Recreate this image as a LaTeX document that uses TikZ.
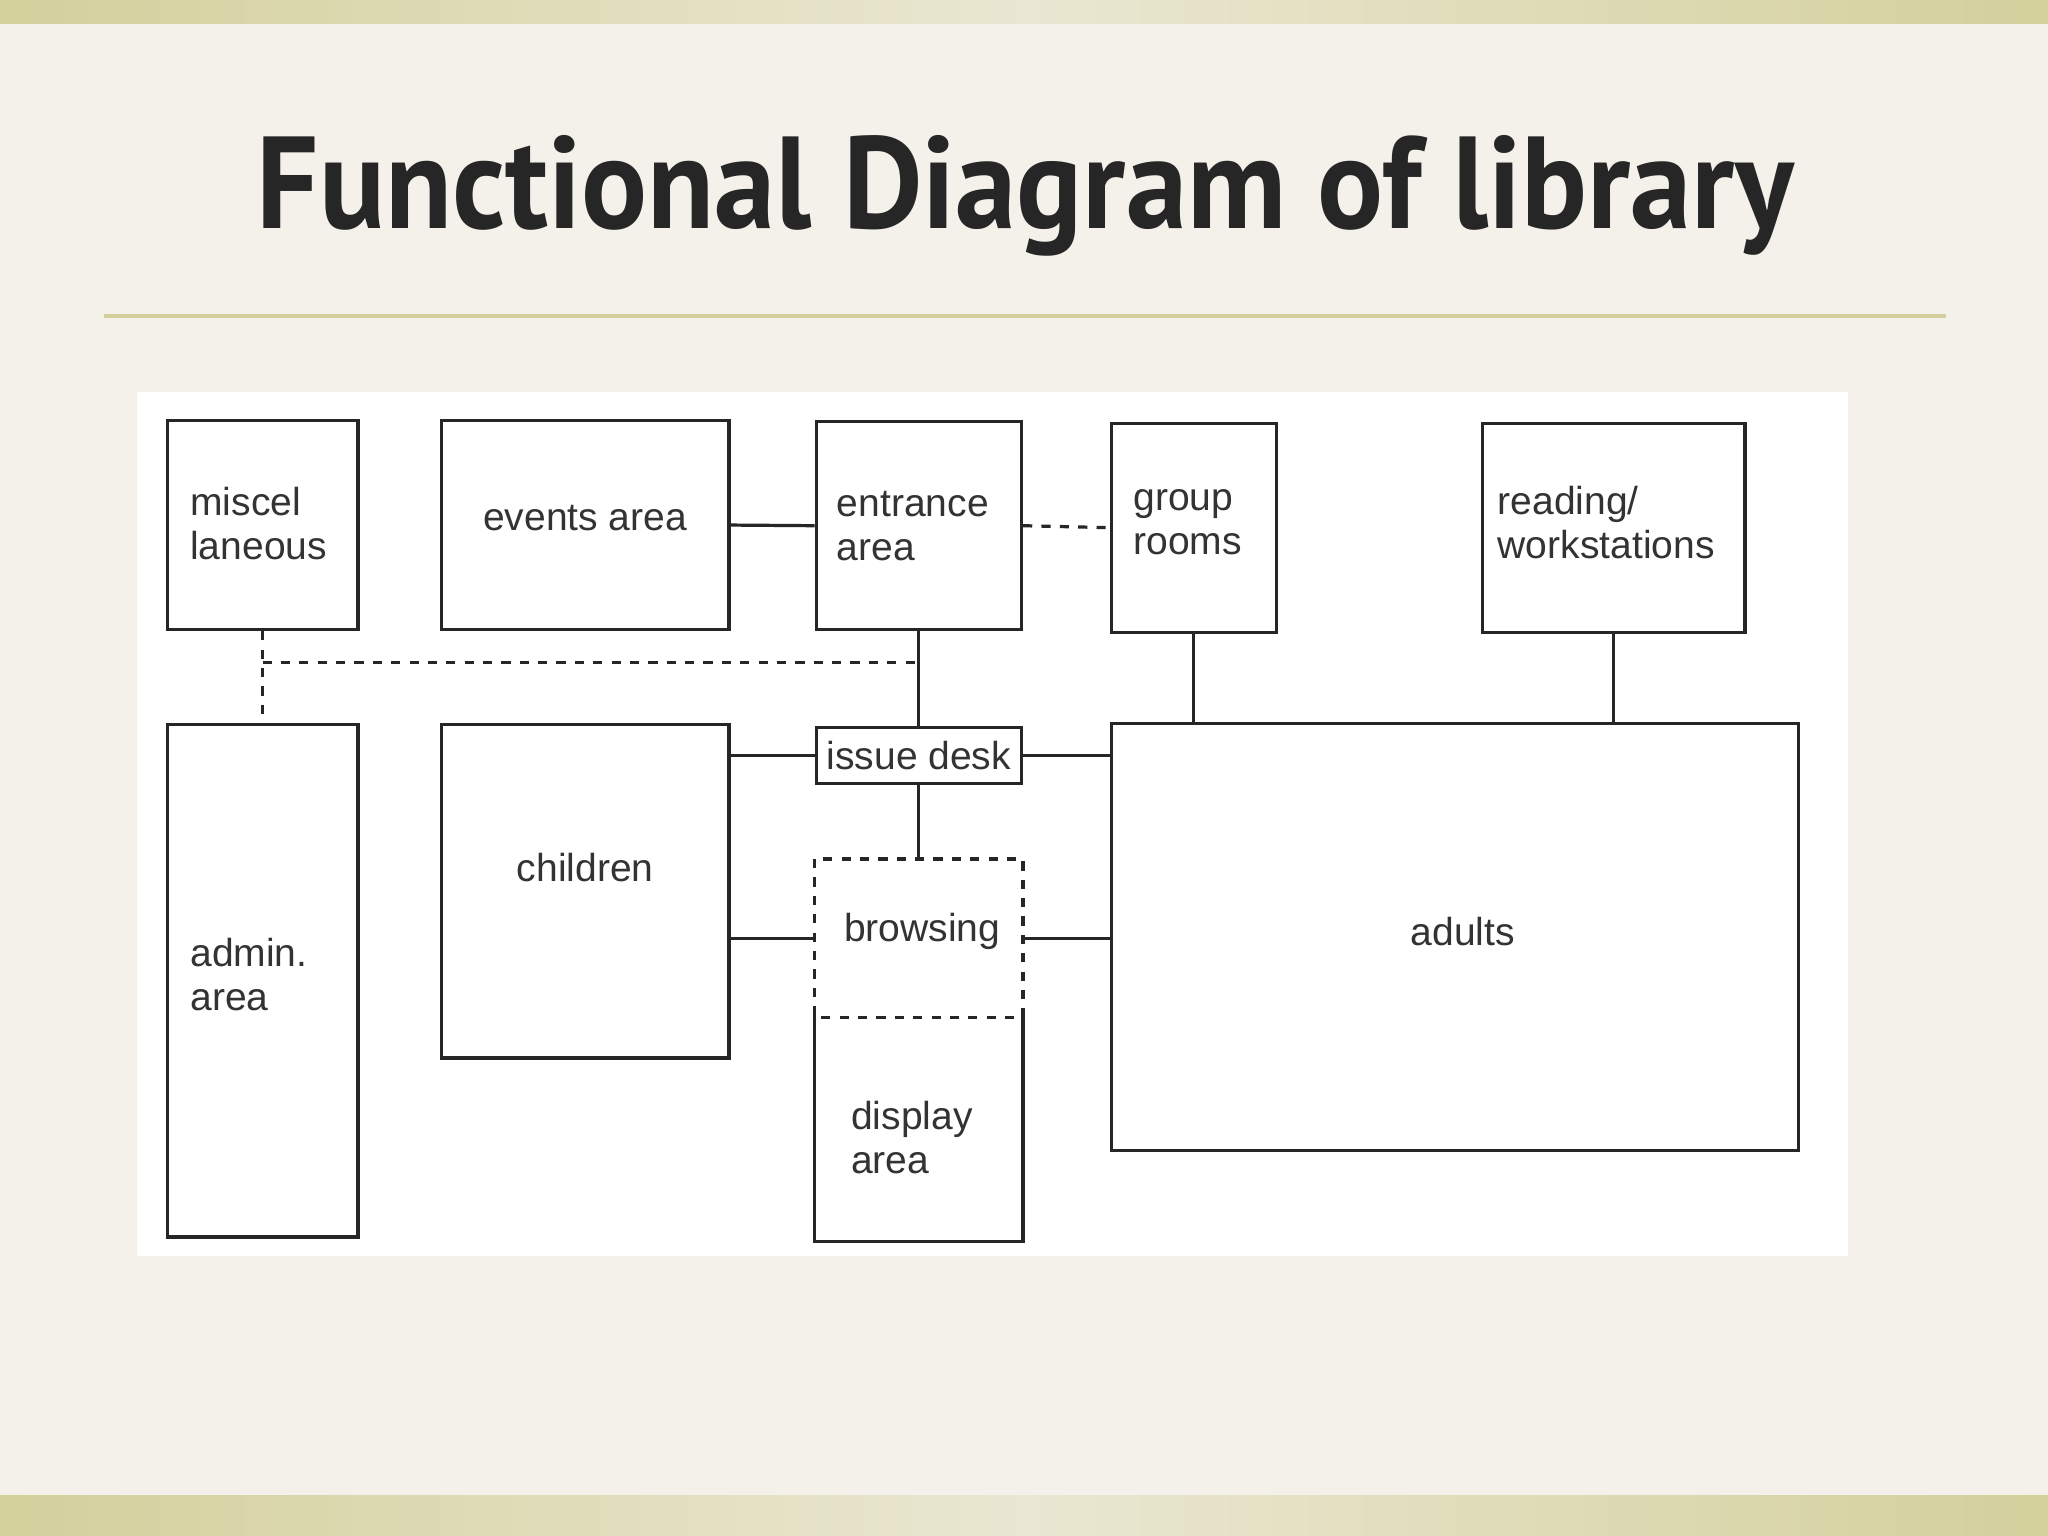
\documentclass[tikz,border=0pt]{standalone}
\usepackage{fontspec}
\setmainfont{Liberation Sans}
\newfontfamily\titlefont{PT Sans}
\begin{document}
\begin{tikzpicture}[x=0.01cm,y=-0.01cm,
  box/.style={draw=black!85,line width=0.7pt,inner sep=0pt,anchor=center},
  lbl/.style={font=\fontsize{8.5pt}{9.6pt}\selectfont,text=black!80,align=left,inner sep=0pt},
  con/.style={draw=black!85,line width=0.7pt},
  dcon/.style={draw=black!85,line width=0.7pt,dash pattern=on 2pt off 2pt}]
\definecolor{bg}{HTML}{F3F1EA}
\definecolor{band}{HTML}{D4D09C}
\fill[bg] (0,0) rectangle (1568,1176);
\useasboundingbox (0,0) rectangle (1568,1176);
\shade[left color=band,right color=band,middle color=bg!70!band] (0,0) rectangle (1568,18);
\shade[left color=band,right color=band,middle color=bg!70!band] (0,1145) rectangle (1568,1176);
\node[text=black!85] (title) at (785,150) {\scalebox{0.94}[1]{\titlefont\bfseries\fontsize{28.5pt}{34pt}\selectfont Functional Diagram of library}};
\draw[band,line width=0.8pt] (80,242) -- (1490,242);
\fill[white] (105,300) rectangle (1415,962);
% boxes
\node[box,minimum width=1.46cm,minimum height=1.60cm] (misc) at (201,402) {};
\node[box,minimum width=2.20cm,minimum height=1.60cm] (events) at (448,402) {};
\node[box,minimum width=1.57cm,minimum height=1.59cm] (entr) at (703.5,402.5) {};
\node[box,minimum width=1.26cm,minimum height=1.60cm] (group) at (914,404) {};
\node[box,minimum width=2.01cm,minimum height=1.60cm] (read) at (1235.5,404) {};
\node[box,minimum width=1.46cm,minimum height=3.92cm] (admin) at (201,751) {};
\node[box,minimum width=2.20cm,minimum height=2.55cm] (child) at (448,682.5) {};
\node[box,minimum width=1.57cm,minimum height=0.43cm,font=\fontsize{8.5pt}{9.6pt}\selectfont,text=black!80] (issue) at (703.5,578.5) {issue desk};
\node[box,draw=none,minimum width=1.57cm,minimum height=1.19cm] (brows) at (703.5,718.5) {};
\draw[dcon] (brows.north west) rectangle (brows.south east);
\node[box,draw=none,minimum width=1.57cm,minimum height=1.71cm] (disp) at (703.5,863.5) {};
\draw[con] (disp.north west) -- (disp.south west) -- (disp.south east) -- (disp.north east);
\node[box,minimum width=5.26cm,minimum height=3.27cm] (adults) at (1114,717.5) {};
% labels
\node[lbl,anchor=west] (lmisc) at (145,401) {miscel\\laneous};
\node[lbl] (levents) at (448,397) {events area};
\node[lbl,anchor=west] (lentr) at (640,403) {entrance\\area};
\node[lbl,anchor=west] (lgroup) at (867,400) {group\\rooms};
\node[lbl,anchor=west] (lread) at (1146,400) {reading/\\workstations};
\node[lbl,anchor=west] (ladmin) at (145,746) {admin.\\area};
\node[lbl] (lchild) at (448,664) {children};
\node[lbl] (lbrows) at (706,713) {browsing};
\node[lbl,anchor=west] (ldisp) at (651,871) {display\\area};
\node[lbl] (ladults) at (1120,713) {adults};
% connectors
\draw[con] (events.east) -- (entr.west);
\draw[dcon] (entr.east) -- (group.west);
\draw[con] (entr.south) -- (issue.north);
\draw[dcon] (misc.south) -- (admin.north);
\coordinate (j) at (201,507);
\draw[dcon] (j) -- (j -| entr.south);
\draw[con] (issue.west) -- (issue.west -| child.east);
\draw[con] (issue.east) -- (issue.east -| adults.west);
\draw[con] (issue.south) -- (brows.north);
\draw[con] (brows.west) -- (brows.west -| child.east);
\draw[con] (brows.east) -- (brows.east -| adults.west);
\draw[con] (group.south) -- (group.south |- adults.north);
\draw[con] (read.south) -- (read.south |- adults.north);
\end{tikzpicture}
\end{document}
